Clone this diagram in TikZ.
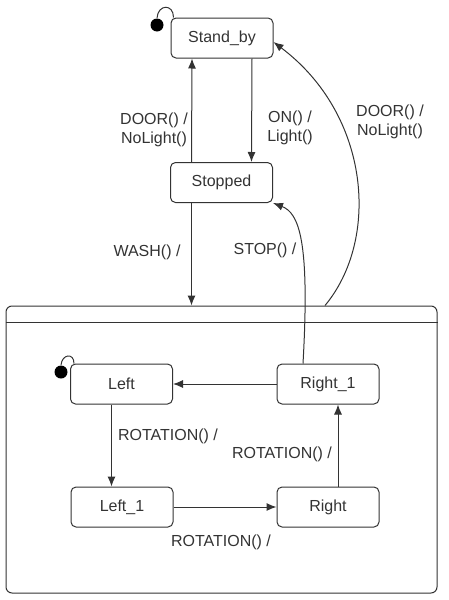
\documentclass[tikz,border=0pt]{standalone}
\usepackage{fontspec}
\setmainfont{Liberation Sans}
\usetikzlibrary{arrows.meta}
\tikzset{>={Latex[width=8pt,length=10pt]}}

\begin{document}
\begin{tikzpicture}[
    x = 1pt, y = -1pt,
    line width = 1pt,
    color = black!80,
    every node/.style = {font=\fontsize{16}{19}\selectfont},
    state/.style = {draw, rounded corners=5pt, minimum width=102pt,
        minimum height=40pt, inner sep=0pt},
    init/.style = {circle, fill=black, minimum size=13pt, inner sep=0pt},
    lbl/.style = {align=center, inner sep=0pt}
  ]
  \useasboundingbox (0,0) rectangle (448,600);

  % upper states
  \node[state] (Standby) at (222,38) {Stand\_by};
  \node[state] (Stopped) at (221.5,182.5) {Stopped};
  \node[init] (StandbyInit) at (157,25) {};
  \draw (StandbyInit.north) .. controls +(1,-14) and +(0,-14) .. ([xshift=3pt]Standby.north west);

  % composite state
  \node[draw, rounded corners=6pt, minimum width=431pt, minimum height=287pt,
    inner sep=0pt] (Washing) at (221.5,449.5) {};
  \draw ([yshift=-17pt]Washing.north west) -- ([yshift=-17pt]Washing.north east);

  % inner states
  \node[state] (Left) at (121.5,384) {Left};
  \node[state] (Right1) at (328,384) {Right\_1};
  \node[state] (Left1) at (122,507) {Left\_1};
  \node[state] (Right) at (328,507) {Right};
  \node[init] (LeftInit) at (61,372) {};
  \draw (LeftInit.north) .. controls +(1,-11) and +(0,-11) .. ([xshift=4pt]Left.north west);

  % transitions
  \draw[->] ([xshift=-30pt]Stopped.north) -- ([xshift=-30pt]Standby.south);
  \draw[->] ([xshift=30pt]Standby.south) -- ([xshift=30pt]Stopped.north);
  \draw[->] ([xshift=-30pt]Stopped.south) -- ([xshift=-30pt]Stopped.south |- Washing.north);
  \draw[->] ([xshift=103.5pt]Washing.north) .. controls +(55,-66) and +(97,73) .. ([yshift=-4pt]Standby.east);
  \draw[->] ([xshift=-25pt]Right1.north) .. controls +(7,-123) and +(26,10) .. (Stopped.south east);

  \draw[->] (Right1.west) -- (Left.east);
  \draw[->] ([xshift=-10pt]Left.south) -- ([xshift=-10pt]Left.south |- Left1.north);
  \draw[->] (Left1.east) -- (Right.west);
  \draw[->] ([xshift=10pt]Right.north) -- ([xshift=10pt]Right.north |- Right1.south);

  % labels
  \node[lbl] (lDoorA) at (154,130) {DOOR() /\\NoLight()};
  \node[lbl] (lOn) at (290,128) {ON() /\\Light()};
  \node[lbl] (lDoorB) at (390,122) {DOOR() /\\NoLight()};
  \node[lbl] (lWash) at (147,252) {WASH() /};
  \node[lbl] (lStop) at (265,250) {STOP() /};
  \node[lbl] (lRotA) at (168,436) {ROTATION() /};
  \node[lbl] (lRotB) at (282,454) {ROTATION() /};
  \node[lbl] (lRotC) at (221,542) {ROTATION() /};
\end{tikzpicture}
\end{document}
